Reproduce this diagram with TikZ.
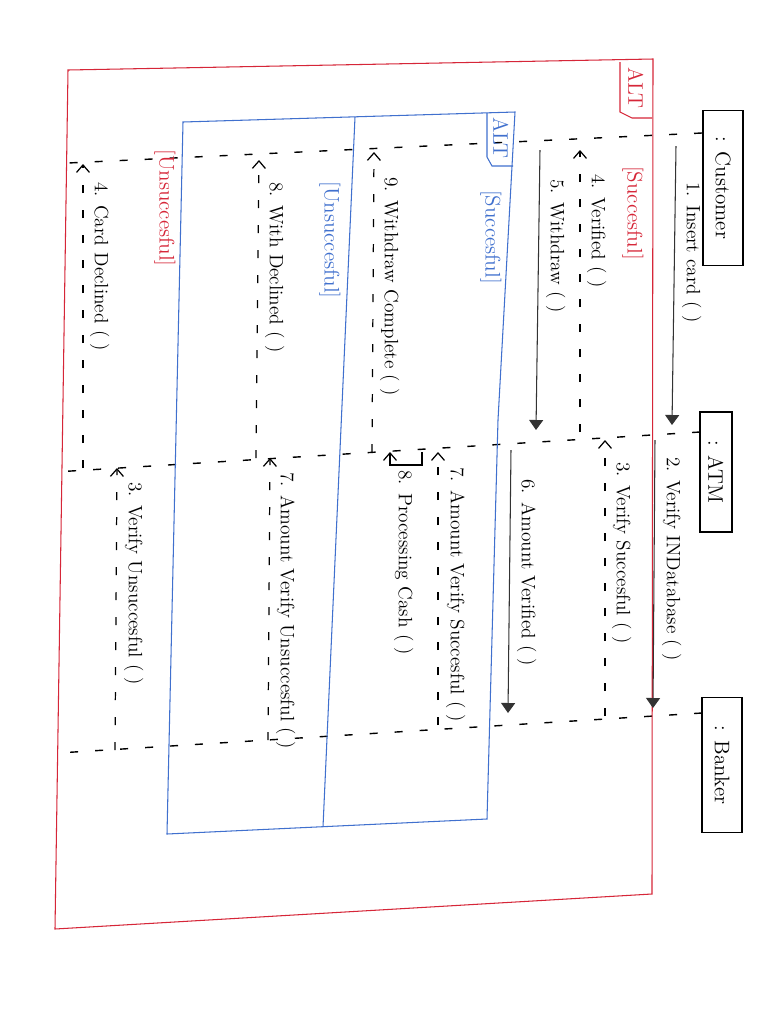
\documentclass[tikz,border=0pt]{standalone}
\usepackage{xcolor}
\usepackage{tikz}
\usetikzlibrary{arrows.meta, positioning, calc}

\definecolor{altred}{RGB}{214,38,56}
\definecolor{altblue}{RGB}{64,112,206}

\begin{document}
\begin{tikzpicture}[
        x=0.2mm, y=-0.2mm,
        lifebox/.style={rectangle, draw=black, line width=0.7pt, rotate=-90, inner sep=2pt, font=\large},
        lifeline/.style={draw=black, line width=0.8pt, dash pattern=on 1.6mm off 3.4mm},
        call/.style={draw=black!80, line width=0.6pt, -{Triangle[length=2mm, width=2.8mm]}},
        reply/.style={draw=black, line width=0.7pt, dash pattern=on 1.6mm off 3.4mm, -{Straight Barb[length=1.5mm, width=2.6mm]}},
        selfcall/.style={draw=black, line width=0.7pt, -{Straight Barb[length=1.5mm, width=2.6mm]}},
        msg/.style={rotate=-90, anchor=south west, inner sep=1pt, font=\fontsize{11}{13}\selectfont},
        guard/.style={rotate=-90, inner sep=1pt, font=\large},
        altframe/.style={line width=0.6pt}
    ]

    \fill[white] (0,0) rectangle (768,1024);
    \useasboundingbox (0,0) rectangle (768,1024);

    % --- LIFELINE HEADS ---
    \node (cust) [lifebox, minimum width=31mm, minimum height=8mm] at (723,188) {: Customer};
    \node (atm) [lifebox, minimum width=24mm, minimum height=6.4mm] at (716,472) {: ATM};
    \node (bank) [lifebox, minimum width=27mm, minimum height=8mm] at (722,765) {: Banker};

    \coordinate (custR) at (702,133);
    \coordinate (custL) at (68,163);
    \coordinate (atmR) at (700,432);
    \coordinate (atmL) at (55,472);
    \coordinate (bankR) at (702,713);
    \coordinate (bankL) at (58,753);

    \draw [lifeline] (custR) -- (custL);
    \draw [lifeline] (atmR) -- (atmL);
    \draw [lifeline] (bankR) -- (bankL);

    % --- ALT FRAMES ---
    \draw [altframe, altred] (68,70) -- (653,59) -- (652,894) -- (55,929) -- cycle;
    \draw [altframe, altred] (620,62) -- (620,112) -- (632,118) -- (652,118);
    \node (altA) [guard, text=altred] at (636,88) {ALT};
    \node (okA) [guard, text=altred] at (633,213) {[Succesful]};
    \node (noA) [guard, text=altred] at (165,208) {[Unsuccesful]};

    \draw [altframe, altblue] (183,122) -- (515,112) -- (498,420) -- (487,819) -- (167,834) -- cycle;
    \draw [altframe, altblue] (487,113) -- (487,157) -- (492,166) -- (513,166);
    \draw [altframe, altblue] (355,117) -- (323,827);
    \node (altB) [guard, text=altblue] at (501,138) {ALT};
    \node (okB) [guard, text=altblue] at (491,237) {[Succesful]};
    \node (noB) [guard, text=altblue] at (330,240) {[Unsuccesful]};

    % --- MESSAGE ENDS ---
    \coordinate (c1) at (676,146);  \coordinate (a1) at (672,425);
    \coordinate (a2) at (655,440);  \coordinate (b2) at (653,708);
    \coordinate (b3) at (605,716);  \coordinate (a3) at (605,440);
    \coordinate (a4) at (580,432);  \coordinate (c4) at (580,150);
    \coordinate (c5) at (540,150);  \coordinate (a5) at (536,430);
    \coordinate (a6) at (511,450);  \coordinate (b6) at (508,713);
    \coordinate (b7) at (438,725);  \coordinate (a7) at (438,452);
    \coordinate (s8a) at (422,452); \coordinate (s8b) at (390,452);
    \coordinate (a9) at (372,452);  \coordinate (c9) at (374,152);
    \coordinate (bu7) at (268,740); \coordinate (au7) at (270,458);
    \coordinate (au8) at (256,458); \coordinate (cu8) at (259,160);
    \coordinate (bo3) at (115,750); \coordinate (ao3) at (117,468);
    \coordinate (ao4) at (83,468);  \coordinate (co4) at (83,164);

    % --- MESSAGES ---
    \draw [call] (c1) -- (a1);
    \node (l1) [msg] at (680,180) {1. Insert card ( )};

    \draw [call] (a2) -- (b2);
    \node (l2) [msg] at (660,455) {2. Verify INDatabase ( )};

    \draw [reply] (b3) -- (a3);
    \node (l3) [msg] at (610,460) {3. Verify Succesful ( )};

    \draw [reply] (a4) -- (c4);
    \node (l4) [msg] at (585,172) {4. Verified ( )};

    % Succesful withdraw
    \draw [call] (c5) -- (a5);
    \node (l5) [msg] at (544,177) {5. Withdraw ( )};

    \draw [call] (a6) -- (b6);
    \node (l6) [msg] at (515,477) {6. Amount Verified ( )};

    \draw [reply] (b7) -- (a7);
    \node (l7) [msg] at (444,465) {7. Amount Verify Succesful ( )};

    \draw [selfcall] (s8a) -- ++(0,13) -| (s8b);
    \node (l8) [msg] at (392,468) {8. Processing Cash ( )};

    \draw [reply] (a9) -- (c9);
    \node (l9) [msg] at (378,175) {9. Withdraw Complete ( )};

    % Unsuccesful withdraw
    \draw [reply] (bu7) -- (au7);
    \node (lu7) [msg] at (274,470) {7. Amount Verify Unsuccesful ( )};

    \draw [reply] (au8) -- (cu8);
    \node (lu8) [msg] at (263,180) {8. With Declined ( )};

    % Unsuccesful card
    \draw [reply] (bo3) -- (ao3);
    \node (lo3) [msg] at (122,480) {3. Verify Unsuccesful ( )};

    \draw [reply] (ao4) -- (co4);
    \node (lo4) [msg] at (88,180) {4. Card Declined ( )};

\end{tikzpicture}
\end{document}
